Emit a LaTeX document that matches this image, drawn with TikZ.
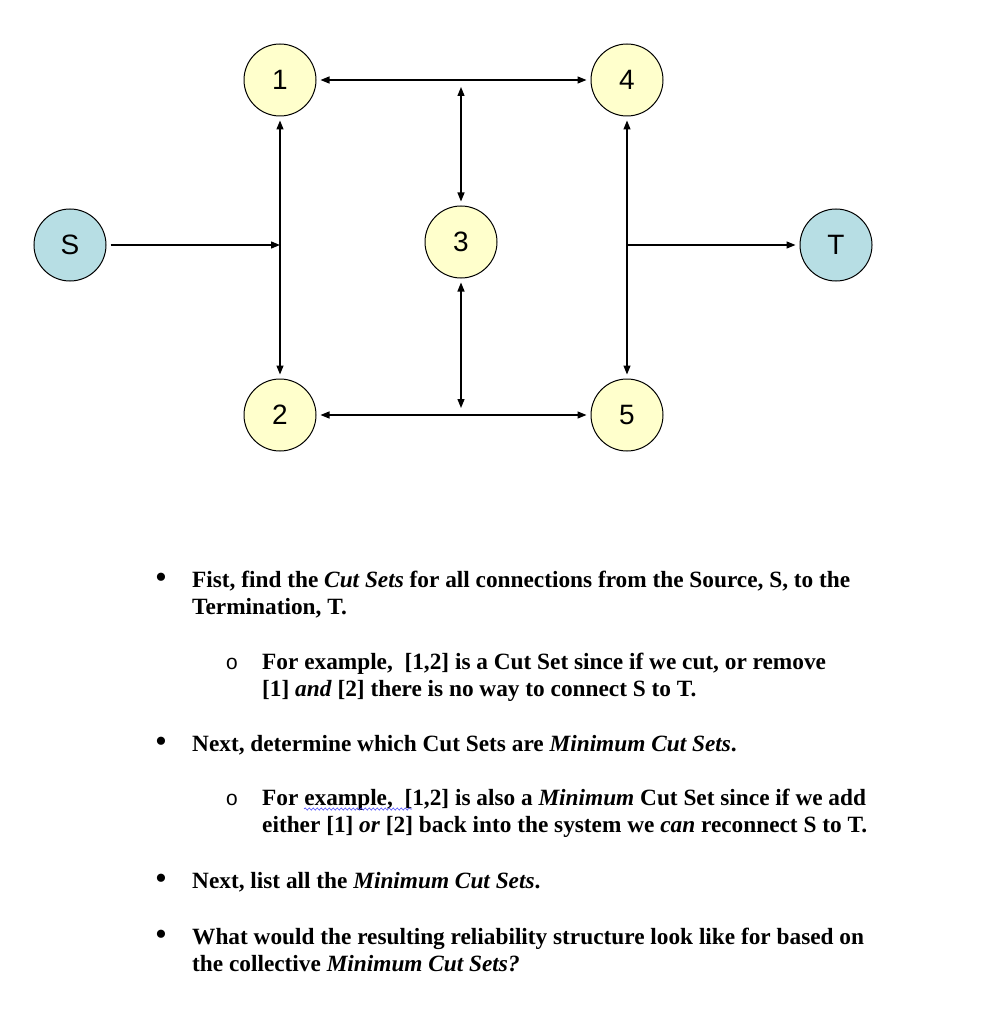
\documentclass[tikz,border=0pt]{standalone}
\usepackage{fontspec}
\setmainfont{Liberation Serif}
\newfontfamily\arialfont{Liberation Sans}
\newfontfamily\courfont{Liberation Mono}
\usetikzlibrary{arrows.meta,decorations.pathmorphing}
\definecolor{nodeyellow}{RGB}{255,255,204}
\definecolor{nodeblue}{RGB}{183,222,228}
\tikzset{
  vertex/.style={circle,draw,line width=1pt,minimum size=72pt,inner sep=0pt,
    font=\arialfont\fontsize{28}{28}\selectfont},
  ynode/.style={vertex,fill=nodeyellow},
  bnode/.style={vertex,fill=nodeblue},
  link/.style={line width=1.3pt,shorten <=4pt,shorten >=4pt},
  textline/.style={anchor=base west,inner sep=0pt,font=\fontsize{23.3}{27}\selectfont\bfseries},
  bulletmark/.style={anchor=center,inner sep=0pt,font=\fontsize{34}{34}\selectfont},
  subbullet/.style={anchor=base,inner sep=0pt,font=\courfont\fontsize{21}{27}\selectfont},
  spellmark/.style={draw=blue!70!white,line width=0.6pt,decorate,
    decoration={snake,amplitude=1.1pt,segment length=4pt}}
}
\begin{document}
\begin{tikzpicture}[x=1pt,y=-1pt,>={Triangle[length=9pt,width=7pt]}]
    \useasboundingbox (0,0) rectangle (1006,1024);
    \node[bnode] (nS) at (70,245) {S};
    \node[ynode] (n1) at (280,80) {1};
    \node[ynode] (n2) at (280,415) {2};
    \node[ynode] (n3) at (461,242) {3};
    \node[ynode] (n4) at (627,80) {4};
    \node[ynode] (n5) at (627,415) {5};
    \node[bnode] (nT) at (836,245) {T};
    \coordinate (j1) at (n1 |- nS);
    \coordinate (j2) at (n4 |- nT);
    \coordinate (t3) at (n3 |- n1);
    \coordinate (b3) at (n3 |- n2);
    \draw[link,<->] (n1) -- (n4);
    \draw[link,<->] (n2) -- (n5);
    \draw[link,<->] (n1) -- (n2);
    \draw[link,<->] (n4) -- (n5);
    \draw[link,<->,shorten <=7pt] (t3) -- (n3);
    \draw[link,<->,shorten >=7pt] (n3) -- (b3);
    \draw[link,->,shorten >=0pt] (nS) -- (j1);
    \draw[link,->,shorten <=0pt] (j2) -- (nT);
    % text below the graph
    \node[bulletmark] (m1) at (161,581) {\textbullet};
    \node[textline] (l1) at (192,587) {Fist, find the \textit{Cut Sets} for all connections from the Source, S, to the};
    \node[textline] (l2) at (192,614) {Termination, T.};
    \node[subbullet] (s1) at (232,669) {o};
    \node[textline] (l3) at (262,669) {For example,\ \ [1,2] is a Cut Set since if we cut, or remove};
    \node[textline] (l4) at (262,696) {[1] \textit{and} [2] there is no way to connect S to T.};
    \node[bulletmark] (m2) at (161,745) {\textbullet};
    \node[textline] (l5) at (192,751) {Next, determine which Cut Sets are \textit{Minimum Cut Sets}.};
    \node[subbullet] (s2) at (232,805) {o};
    \node[textline] (l6) at (262,805) {For example,\ \ [1,2] is also a \textit{Minimum} Cut Set since if we add};
    \node[textline] (l7) at (262,832) {either [1] \textit{or} [2] back into the system we \textit{can} reconnect S to T.};
    \draw[spellmark] (304,809) -- (412,809);
    \node[bulletmark] (m3) at (161,882) {\textbullet};
    \node[textline] (l8) at (192,888) {Next, list all the \textit{Minimum Cut Sets}.};
    \node[bulletmark] (m4) at (161,938) {\textbullet};
    \node[textline] (l9) at (192,944) {What would the resulting reliability structure look like for based on};
    \node[textline] (l10) at (192,971) {the collective \textit{Minimum Cut Sets?}};
\end{tikzpicture}
\end{document}
